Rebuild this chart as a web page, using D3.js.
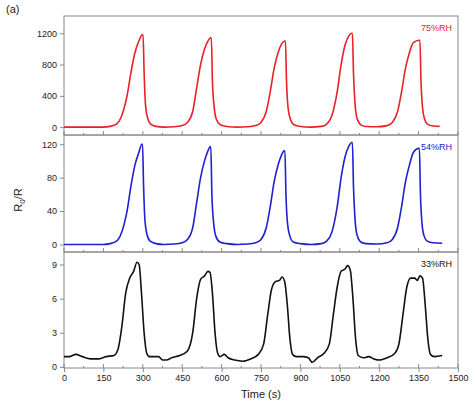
<!DOCTYPE html>
<html>
<head>
<meta charset="utf-8">
<script src="https://d3js.org/d3.v7.min.js"></script>
<style>
  body { margin: 0; background: #fff; }
  text { font-family: Arial, "Liberation Sans", sans-serif; }
</style>
</head>
<body>
<script>
// time (s) / response
var redT = [0,150,175,200,220,240,255,270,285,298,301,305,310,318,330,350,380,420,450,470,490,505,520,535,548,558,561,565,572,580,595,620,660,700,730,750,770,785,800,815,828,840,843,847,853,862,875,900,940,980,1000,1020,1040,1055,1070,1085,1095,1098,1102,1108,1116,1130,1150,1190,1230,1250,1270,1285,1300,1315,1330,1352,1355,1359,1365,1373,1385,1405,1430];
var redV = [0,0,10,40,150,400,700,950,1100,1180,1180,700,300,120,40,10,0,5,20,60,200,500,800,1000,1100,1140,1140,600,250,100,30,8,0,5,20,60,200,450,750,950,1060,1100,1100,600,250,100,30,8,0,10,40,150,450,800,1050,1170,1200,1200,700,300,110,30,8,5,20,60,200,450,750,950,1080,1110,1110,600,250,100,35,15,10];
var blueT = [0,150,175,200,220,240,255,270,285,296,299,303,308,316,328,350,380,420,450,470,490,505,520,535,548,556,559,563,570,578,593,620,660,700,730,750,770,785,800,815,828,838,841,845,851,860,873,900,940,980,1000,1020,1040,1055,1070,1085,1095,1098,1102,1108,1116,1130,1150,1190,1230,1250,1270,1285,1300,1315,1330,1350,1353,1357,1363,1371,1383,1405,1440];
var blueV = [0,0,1,4,15,40,70,95,110,120,120,70,30,12,4,1,0,0.5,2,6,20,50,80,100,112,117,117,60,25,10,3,1,0,0.5,2,6,20,45,75,95,107,112,112,60,25,10,3,1,0,1,4,15,45,80,105,118,122,122,70,30,11,3,1,0.5,2,6,20,45,75,95,110,115,115,60,25,10,4,2,1.5];
var blackT = [0,20,45,70,100,130,160,190,205,220,235,250,265,278,286,295,305,315,325,340,360,375,390,410,440,470,490,505,520,535,548,556,565,575,585,595,610,625,650,680,710,740,760,775,790,805,820,830,840,850,860,870,885,910,930,945,965,990,1010,1025,1040,1055,1070,1080,1090,1100,1110,1120,1140,1160,1180,1200,1230,1260,1275,1290,1305,1320,1335,1345,1355,1365,1375,1385,1395,1410,1440];
var blackV = [0.9,0.9,1.1,0.9,0.7,0.7,0.9,1.0,1.5,3.5,6.5,7.8,8.4,9.2,9.0,6.5,3.0,1.2,0.9,0.9,0.9,0.6,0.6,0.8,1.0,1.4,3.0,6.0,7.7,8.0,8.4,8.3,6.5,3.0,1.2,0.9,1.1,0.8,0.6,0.5,0.7,1.1,2.0,4.5,6.8,7.5,7.6,7.9,7.5,5.5,2.5,1.1,0.9,0.9,0.8,0.4,0.8,1.2,2.0,4.5,7.0,8.4,8.6,8.9,8.5,6.0,2.5,1.0,0.8,0.9,0.7,0.6,0.8,1.2,2.0,4.5,7.0,7.8,7.8,7.6,8.0,7.8,5.5,2.5,1.1,0.9,1.0];
var xTicks = [0,150,300,450,600,750,900,1050,1200,1350,1500];

var panels = [
  {t: redT, v: redV, col: "#e8202a", lab: "75%RH", dom: [-100, 1420], ticks: [0,400,800,1200], y0: 16, y1: 135},
  {t: blueT, v: blueV, col: "#2020d0", lab: "54%RH", dom: [-9, 131], ticks: [0,40,80,120], y0: 135, y1: 252},
  {t: blackT, v: blackV, col: "#111", lab: "33%RH", dom: [-0.1, 10.1], ticks: [0,3,6,9], y0: 252, y1: 368}
];

var W = 474, H = 411, L = 64, R = 458;
var svg = d3.select("body").append("svg").attr("width", W).attr("height", H);
var x = d3.scaleLinear().domain([0, 1500]).range([L, R]);

panels.forEach(function (p, i) {
  var y = d3.scaleLinear().domain(p.dom).range([p.y1, p.y0]);
  svg.append("rect").attr("x", L).attr("y", p.y0).attr("width", R - L).attr("height", p.y1 - p.y0)
    .attr("fill", "none").attr("stroke", "#888").attr("stroke-width", 1);
  var ya = svg.append("g").attr("transform", "translate(" + L + ",0)")
    .call(d3.axisLeft(y).tickValues(p.ticks).tickSize(4).tickFormat(d3.format("d")));
  ya.select(".domain").remove();
  ya.selectAll("line").attr("stroke", "#888");
  ya.selectAll("text").attr("font-size", 9).attr("fill", "#222");
  // minor x ticks on panel bottoms
  svg.append("g").selectAll("line").data(d3.range(0, 1501, 75)).enter().append("line")
    .attr("x1", x).attr("x2", x).attr("y1", p.y1).attr("y2", function (d) { return p.y1 - (d % 150 ? 2 : 4); })
    .attr("stroke", "#888");
  var pts = p.t.map(function (t, k) { return [t, p.v[k]]; });
  svg.append("path").datum(pts)
    .attr("fill", "none").attr("stroke", p.col).attr("stroke-width", 1.6)
    .attr("d", d3.line().x(function (d) { return x(d[0]); }).y(function (d) { return y(d[1]); }).curve(d3.curveMonotoneX));
  svg.append("text").attr("x", 452).attr("y", p.y0 + 15).attr("text-anchor", "end")
    .attr("font-size", 9).attr("fill", p.col).text(p.lab);
});

var xa = svg.append("g").attr("transform", "translate(0,368)")
  .call(d3.axisBottom(x).tickValues(xTicks).tickSize(4).tickFormat(d3.format("d")));
xa.select(".domain").remove();
xa.selectAll("line").attr("stroke", "#888");
xa.selectAll("text").attr("font-size", 9).attr("fill", "#222");

svg.append("text").attr("x", 261).attr("y", 398).attr("text-anchor", "middle")
  .attr("font-size", 11).attr("fill", "#222").text("Time (s)");
var yl = svg.append("text").attr("transform", "translate(22,200) rotate(-90)")
  .attr("text-anchor", "middle").attr("font-size", 11).attr("fill", "#222");
yl.append("tspan").text("R");
yl.append("tspan").attr("font-size", 8).attr("dy", 3).text("0");
yl.append("tspan").attr("dy", -3).text("/R");
svg.append("text").attr("x", 6).attr("y", 13).attr("font-size", 11).attr("fill", "#222").text("(a)");
</script>
</body>
</html>
